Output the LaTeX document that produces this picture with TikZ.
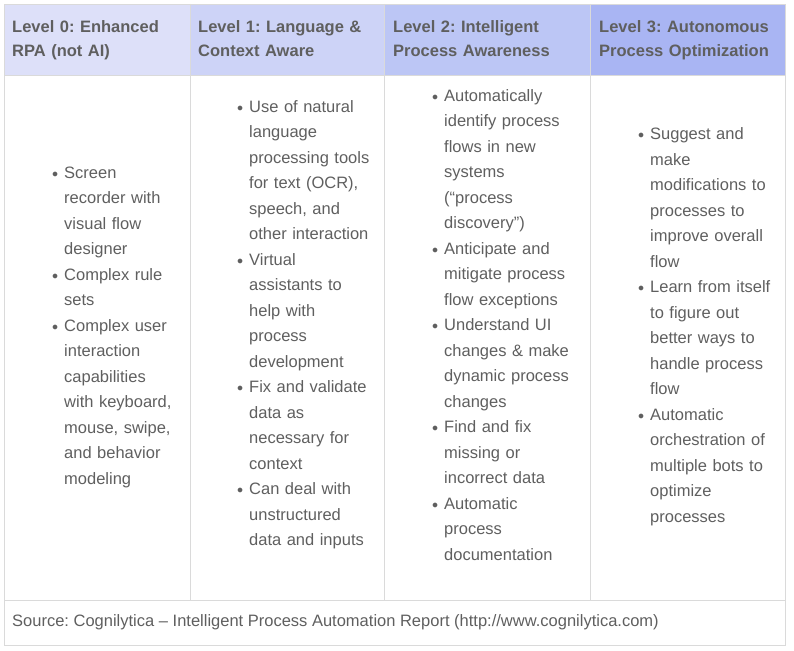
\documentclass[tikz,border=0pt]{standalone}
\usepackage{fontspec}
\setmainfont{Liberation Sans}
\usepackage{enumitem}
\frenchspacing
\definecolor{tx}{HTML}{5F5F5F}
\definecolor{hA}{HTML}{DDE0F9}
\definecolor{hB}{HTML}{CDD3F7}
\definecolor{hC}{HTML}{BCC6F5}
\definecolor{hD}{HTML}{A9B5F3}
\definecolor{ln}{HTML}{DADADA}
\tikzset{
 hdr/.style={anchor=north west,text width=180pt,align=left,font=\fontsize{16.5}{24}\selectfont\bfseries\frenchspacing,text=tx,inner sep=0pt},
 col/.style={anchor=west,text width=150pt,font=\fontsize{16.5}{25.5}\selectfont\frenchspacing,text=tx,inner sep=0pt},
}
\setlist[itemize]{leftmargin=12pt,labelsep=6pt,itemsep=0pt,topsep=0pt,parsep=0pt,partopsep=0pt,label={\raisebox{1pt}{\scalebox{0.7}{$\bullet$}}}}
\begin{document}
\begin{tikzpicture}[x=1pt,y=-1pt]
\useasboundingbox (0,0) rectangle (794,650);
\fill[hA] (4,4) rectangle (190,75);
\fill[hB] (190,4) rectangle (384,75);
\fill[hC] (384,4) rectangle (590,75);
\fill[hD] (590,4) rectangle (785,75);
\draw[ln] (4,4) rectangle (785,645);
\draw[ln] (4,75) -- (785,75);
\draw[ln] (4,600) -- (785,600);
\foreach \x in {190,384,590} \draw[ln] (\x,4) -- (\x,600);
\node[hdr] (h0) at (12,20) {Level 0: Enhanced\\RPA (not AI)};
\node[hdr] (h1) at (198,20) {Level 1: Language \&\\Context Aware};
\node[hdr] (h2) at (393,20) {Level 2: Intelligent\\Process Awareness};
\node[hdr] (h3) at (599,20) {Level 3: Autonomous\\Process Optimization};
\node[col] (c0) at (52,320) {\begin{itemize}
\item Screen\\recorder with\\visual flow\\designer
\item Complex rule\\sets
\item Complex user\\interaction\\capabilities\\with keyboard,\\mouse, swipe,\\and behavior\\modeling
\end{itemize}};
\node[col] (c1) at (237,318) {\begin{itemize}
\item Use of natural\\language\\processing tools\\for text (OCR),\\speech, and\\other interaction
\item Virtual\\assistants to\\help with\\process\\development
\item Fix and validate\\data as\\necessary for\\context
\item Can deal with\\unstructured\\data and inputs
\end{itemize}};
\node[col] (c2) at (432,318) {\begin{itemize}
\item Automatically\\identify process\\flows in new\\systems\\(“process\\discovery”)
\item Anticipate and\\mitigate process\\flow exceptions
\item Understand UI\\changes \& make\\dynamic process\\changes
\item Find and fix\\missing or\\incorrect data
\item Automatic\\process\\documentation
\end{itemize}};
\node[col] (c3) at (638,320) {\begin{itemize}
\item Suggest and\\make\\modifications to\\processes to\\improve overall\\flow
\item Learn from itself\\to figure out\\better ways to\\handle process\\flow
\item Automatic\\orchestration of\\multiple bots to\\optimize\\processes
\end{itemize}};
\node[anchor=west,inner sep=0pt,text=tx,font=\fontsize{16.5}{20}\selectfont\frenchspacing] (src) at (12,622) {Source: Cognilytica – Intelligent Process Automation Report (http://www.cognilytica.com)};
\end{tikzpicture}
\end{document}
